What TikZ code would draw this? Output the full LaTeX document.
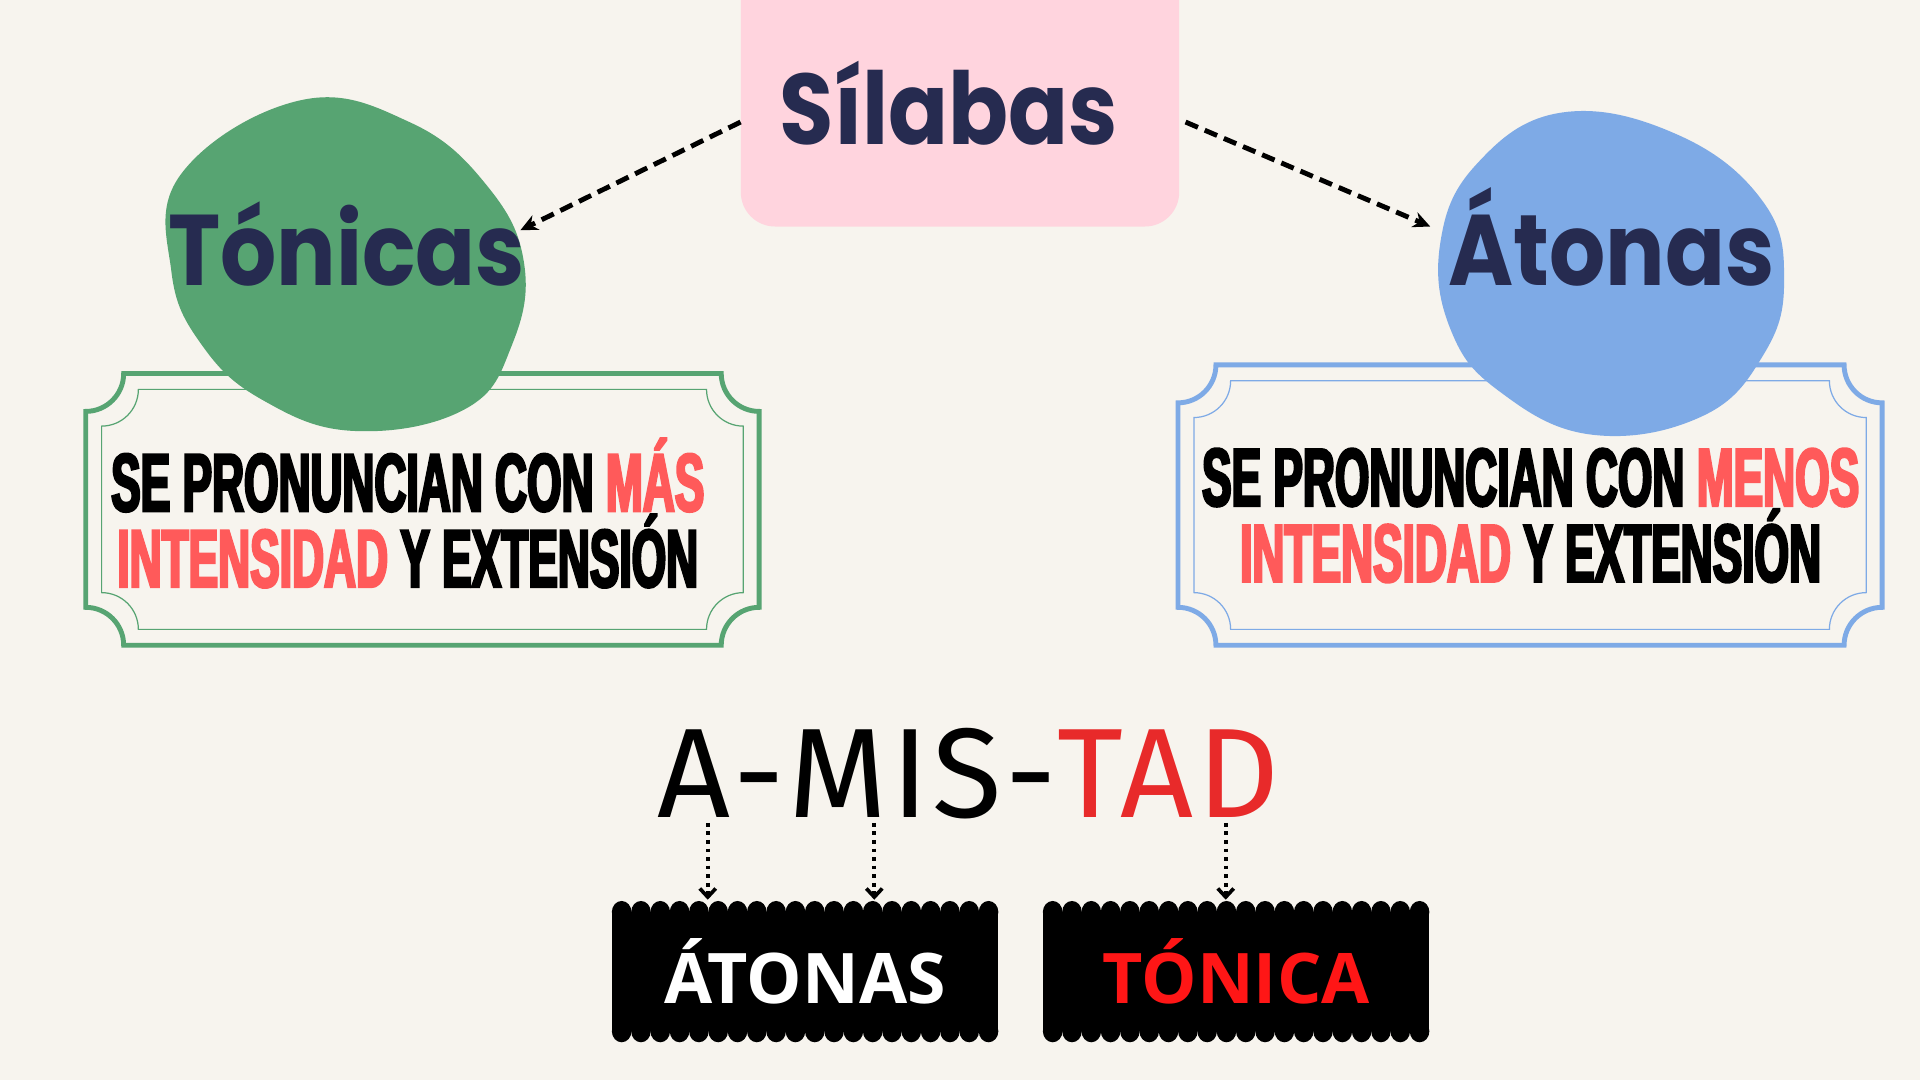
\documentclass[tikz,border=0pt]{standalone}
\usepackage{fontspec}
\usetikzlibrary{arrows.meta,calc}
\newfontfamily\titlefont[FakeStretch=0.88]{Poppins}
\newfontfamily\plaquefont[FakeStretch=0.54,FakeBold=3]{Liberation Sans}
\newfontfamily\tagfont{Open Sans}
\newfontfamily\sketchfont[LetterSpace=3]{Fira Sans}
\definecolor{bgcream}{HTML}{F7F4EE}
\definecolor{pinkbox}{HTML}{FFD4DE}
\definecolor{navy}{HTML}{262B50}
\definecolor{tongreen}{HTML}{57A472}
\definecolor{atoblue}{HTML}{7EAAE6}
\definecolor{hotred}{HTML}{FF5A5A}
\definecolor{sketchred}{HTML}{E82A2A}
\definecolor{tagred}{HTML}{FF1616}
\newcommand{\plaquepath}[5]{({#1+#5},#4) -- ({#3-#5},#4) arc[start angle=180,end angle=270,radius=#5] -- (#3,{#2+#5}) arc[start angle=90,end angle=180,radius=#5] -- ({#1+#5},#2) arc[start angle=0,end angle=90,radius=#5] -- (#1,{#4-#5}) arc[start angle=-90,end angle=0,radius=#5] -- cycle}
\tikzset{
  title/.style={font=\titlefont\bfseries\fontsize{82}{86}\selectfont, text=navy, inner sep=0pt},
  plaquetext/.style={font=\plaquefont\bfseries\fontsize{67}{62}\selectfont, align=center, inner sep=0pt},
  tagbox/.style={fill=black, minimum width=315pt, minimum height=97pt, inner sep=0pt, font=\tagfont\bfseries\fontsize{57}{60}\selectfont},
  dasharrow/.style={line width=4pt, dash pattern=on 11pt off 6pt, -{Stealth[length=14pt,width=13pt]}},
  dotarrow/.style={line width=3pt, dash pattern=on 3pt off 4pt, -{Straight Barb[length=7pt,width=13pt]}}
}
\begin{document}
\begin{tikzpicture}[x=1pt,y=1pt]
\fill[bgcream] (0,0) rectangle (1568,882);
\useasboundingbox (0,0) rectangle (1568,882);
% top box
\node[fill=pinkbox, rounded corners=28pt, minimum width=358pt, minimum height=260pt] (silabasbox) at (784,827) {};
\node[title, anchor=base] (silabas) at (775,764) {Sílabas};
% plaques
\draw[tongreen, line width=4pt] \plaquepath{70}{355}{620}{577}{31};
\draw[tongreen, line width=1pt] \plaquepath{83}{368}{607}{564}{30};
\draw[atoblue, line width=4pt] \plaquepath{962}{355}{1537}{584}{31};
\draw[atoblue, line width=1pt] \plaquepath{975}{368}{1524}{571}{30};
\node[plaquetext] (masText) at (333,463) {SE PRONUNCIAN CON \textcolor{hotred}{MÁS}\\\textcolor{hotred}{INTENSIDAD} Y EXTENSIÓN};
\node[plaquetext] (menosText) at (1250,461) {SE PRONUNCIAN CON \textcolor{hotred}{MENOS}\\\textcolor{hotred}{INTENSIDAD} Y EXTENSIÓN};
% blobs
\fill[tongreen] plot[smooth cycle, tension=0.7] coordinates {(245,800) (335,782) (398,730) (428,667) (418,600) (380,548) (290,530) (215,555) (165,600) (140,660) (148,740)};
\fill[atoblue] plot[smooth cycle, tension=0.7] coordinates {(1275,790) (1370,772) (1440,717) (1457,652) (1440,592) (1390,542) (1300,527) (1225,562) (1185,612) (1176,682) (1205,747)};
\node[title, anchor=base] (tonicas) at (283,649) {Tónicas};
\node[title, anchor=base] (atonas) at (1316,649) {Átonas};
\coordinate (tonicasIn) at (425,694);
\coordinate (atonasIn) at (1168,697);
\draw[dasharrow] (silabasbox.194) -- (tonicasIn);
\draw[dasharrow] ([xshift=5pt]silabasbox.-14) -- (atonasIn);
% word
\node[font=\sketchfont\fontsize{104}{106}\selectfont, anchor=base, inner sep=0pt] (amistad) at (791,214) {A-MIS-\textcolor{sketchred}{TAD}};
\coordinate (sylA) at (578,210);
\coordinate (sylMIS) at (714,210);
\coordinate (sylTAD) at (1001,210);
% tags
\node[tagbox, text=white] (atonasTag) at (657.5,88.5) {ÁTONAS};
\node[tagbox, text=tagred] (tonicaTag) at (1009.5,88.5) {TÓNICA};
\foreach \n in {atonasTag,tonicaTag} {
  \foreach \i in {0,...,19} {
    \fill ($(\n.north west)!{(\i+0.5)/20}!(\n.north east)$) ellipse[x radius=8, y radius=9];
    \fill ($(\n.south west)!{(\i+0.5)/20}!(\n.south east)$) ellipse[x radius=8, y radius=9];
  }
}
\draw[dotarrow] (sylA) -- ([yshift=10pt]sylA |- atonasTag.north);
\draw[dotarrow] (sylMIS) -- ([yshift=10pt]sylMIS |- atonasTag.north);
\draw[dotarrow] (sylTAD) -- ([yshift=10pt]sylTAD |- tonicaTag.north);
\end{tikzpicture}
\end{document}
